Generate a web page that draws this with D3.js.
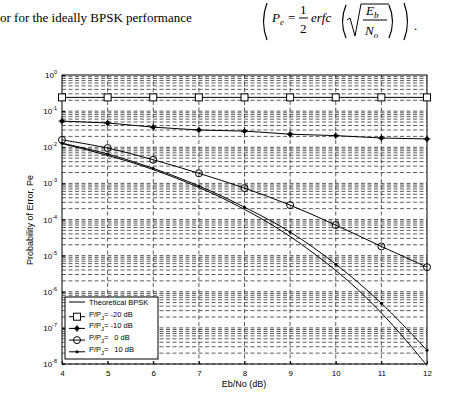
<!DOCTYPE html><html><head><meta charset="utf-8"><script src="https://cdn.jsdelivr.net/npm/d3@7"></script>
<style>body{margin:0;background:#fff}svg{display:block}</style></head><body><svg id="c" width="474" height="403"></svg>
<script>
const ebno=[4,5,6,7,8,9,10,11,12];
const theoX=[4,4.5,5,5.5,6,6.5,7,7.5,8,8.5,9,9.5,10,10.5,11,11.5,12];
const theory=[0.0125,0.0088,0.0059,0.0039,0.0024,0.0014,7.7e-4,4.0e-4,1.9e-4,8.5e-5,3.4e-5,1.2e-5,3.9e-6,1.1e-6,2.6e-7,5.2e-8,9e-9];
const pjm20=[0.24,0.24,0.24,0.24,0.24,0.24,0.24,0.24,0.24];
const pjm10=[0.053,0.047,0.036,0.030,0.028,0.023,0.021,0.018,0.017];
const pj0=[0.016,0.0095,0.0045,0.0019,7.4e-4,2.5e-4,7e-5,1.8e-5,4.8e-6];
const pj10=[0.013,0.0065,0.0026,8.5e-4,2.2e-4,4.5e-5,5.8e-6,4.8e-7,2.4e-8];
const yExp=[0,-1,-2,-3,-4,-5,-6,-7,-8];
const legendLabels=["Theoretical BPSK","-20 dB","-10 dB","0 dB","10 dB"];

const svg=d3.select("#c");
const x=d3.scaleLinear().domain([4,12]).range([62,427]);
const y=d3.scaleLog().domain([1e-8,1]).range([364,75]);
const g=svg.append("g");
const minor=[];yExp.slice(1).forEach(e=>{for(let k=1;k<=9;k++)minor.push(k*Math.pow(10,e));});
g.selectAll(".hg").data(minor.filter(v=>v<1)).join("line").attr("x1",62).attr("x2",427)
 .attr("y1",d=>y(d)).attr("y2",d=>y(d)).attr("stroke","#333").attr("stroke-width",0.8).attr("stroke-dasharray","4,2.5");
g.selectAll(".vg").data(ebno.slice(1,-1)).join("line").attr("y1",75).attr("y2",364)
 .attr("x1",d=>x(d)).attr("x2",d=>x(d)).attr("stroke","#333").attr("stroke-width",0.8).attr("stroke-dasharray","4,2.5");
g.append("rect").attr("x",62).attr("y",75).attr("width",365).attr("height",289).attr("fill","none").attr("stroke","#000");
svg.append("g").attr("transform","translate(0,364)").call(d3.axisBottom(x).tickValues(ebno).tickSize(-3).tickPadding(6))
 .call(a=>{a.select(".domain").remove();a.selectAll("text").attr("font-family","Liberation Sans").attr("font-size",8);});
const ya=svg.append("g").attr("transform","translate(62,0)").call(d3.axisLeft(y).tickValues(yExp.map(e=>Math.pow(10,e))).tickSize(-3).tickFormat(""));
ya.select(".domain").remove();
yExp.forEach(e=>{const t=svg.append("text").attr("x",57).attr("y",y(Math.pow(10,e))+3).attr("text-anchor","end").attr("font-family","Liberation Sans").attr("font-size",8);
 t.append("tspan").text("10");t.append("tspan").attr("dy",-4).attr("font-size",5.5).text(e);});
const line=d3.line().x(d=>x(d[0])).y(d=>y(d[1]));
const smooth=d3.line().x(d=>x(d[0])).y(d=>y(d[1])).curve(d3.curveCatmullRom);
g.append("path").attr("d",smooth(theoX.map((v,i)=>[v,theory[i]]))).attr("fill","none").attr("stroke","#000");
[[pjm20,"sq"],[pjm10,"star"],[pj0,"circ"],[pj10,"dot"]].forEach(([s,m])=>{
 const pts=ebno.map((v,i)=>[v,s[i]]);
 g.append("path").attr("d",(m=="dot"||m=="circ")?smooth(pts):line(pts)).attr("fill","none").attr("stroke","#000");
 pts.forEach(p=>marker(g,x(p[0]),y(p[1]),m));
});
function marker(p,cx,cy,m){
 if(m=="sq")p.append("rect").attr("x",cx-3.5).attr("y",cy-3.5).attr("width",7).attr("height",7).attr("fill","#fff").attr("stroke","#000");
 if(m=="circ")p.append("circle").attr("cx",cx).attr("cy",cy).attr("r",3.5).attr("fill","none").attr("stroke","#000");
 if(m=="star"){p.append("circle").attr("cx",cx).attr("cy",cy).attr("r",2.2).attr("fill","#000");
  p.append("path").attr("d",`M${cx-3.5},${cy}H${cx+3.5}M${cx},${cy-3.5}V${cy+3.5}`).attr("stroke","#000");}
 if(m=="dot")p.append("circle").attr("cx",cx).attr("cy",cy).attr("r",1.5).attr("fill","#000");
}
const L=svg.append("g");
L.append("rect").attr("x",65).attr("y",297).attr("width",93).attr("height",62).attr("fill","#fff").attr("stroke","#000");
const ms=[null,"sq","star","circ","dot"];
legendLabels.forEach((t,i)=>{const ly=302+i*11.7;
 L.append("line").attr("x1",69).attr("x2",85).attr("y1",ly+(i?3:0)).attr("y2",ly+(i?3:0)).attr("stroke","#000");
 if(ms[i])marker(L,77,ly+3,ms[i]);
 const tx=L.append("text").attr("x",89).attr("y",ly+3).attr("font-family","Liberation Sans").attr("font-size",7.5);
 if(i==0)tx.text(t);else{tx.append("tspan").text("P/P");tx.append("tspan").attr("dy",3).attr("font-size",6).text("J");
  tx.append("tspan").attr("dy",-3).attr("xml:space","preserve").text("= "+(t=="0 dB"||t=="10 dB"?"\u2002":"")+t);}
});
svg.append("text").attr("x",244).attr("y",387).attr("text-anchor","middle").attr("font-family","Liberation Sans").attr("font-size",9).text("Eb/No (dB)");
svg.append("text").attr("transform","translate(33,220) rotate(-90)").attr("text-anchor","middle").attr("font-family","Liberation Sans").attr("font-size",9).text("Probability of Error, Pe");
const H=svg.append("g").attr("font-family","Liberation Serif").attr("font-size",13);
H.append("text").attr("x",0).attr("y",22).text("or for the ideally BPSK performance");
function paren(x0,y0,y1,dir){const m=(y0+y1)/2;H.append("path").attr("d",`M${x0+dir*5},${y0} Q${x0-dir*2},${m} ${x0+dir*5},${y1}`).attr("fill","none").attr("stroke","#000").attr("stroke-width",1.2);}
paren(262,3,40,1);paren(409,3,40,-1);
paren(341,5,38,1);paren(394,5,38,-1);
H.append("text").attr("x",414).attr("y",30).text(".");
const f=H.append("text").attr("x",272).attr("y",22).attr("font-style","italic");
f.append("tspan").text("P");f.append("tspan").attr("dy",3).attr("font-size",9).text("e");
H.append("text").attr("x",288).attr("y",22).text("=");
H.append("text").attr("x",300).attr("y",14).text("1");H.append("text").attr("x",300).attr("y",33).text("2");
H.append("line").attr("x1",299).attr("x2",308).attr("y1",18).attr("y2",18).attr("stroke","#000");
H.append("text").attr("x",311).attr("y",22).attr("font-style","italic").text("erfc");
H.append("path").attr("d","M347,20 L350,18 L355,36 L361,4 H389").attr("fill","none").attr("stroke","#000");
const e1=H.append("text").attr("x",366).attr("y",15).attr("font-style","italic");e1.append("tspan").text("E");e1.append("tspan").attr("dy",3).attr("font-size",9).text("b");
const e2=H.append("text").attr("x",365).attr("y",35).attr("font-style","italic");e2.append("tspan").text("N");e2.append("tspan").attr("dy",3).attr("font-size",9).text("o");
H.append("line").attr("x1",363).attr("x2",387).attr("y1",20).attr("y2",20).attr("stroke","#000");
</script></body></html>
